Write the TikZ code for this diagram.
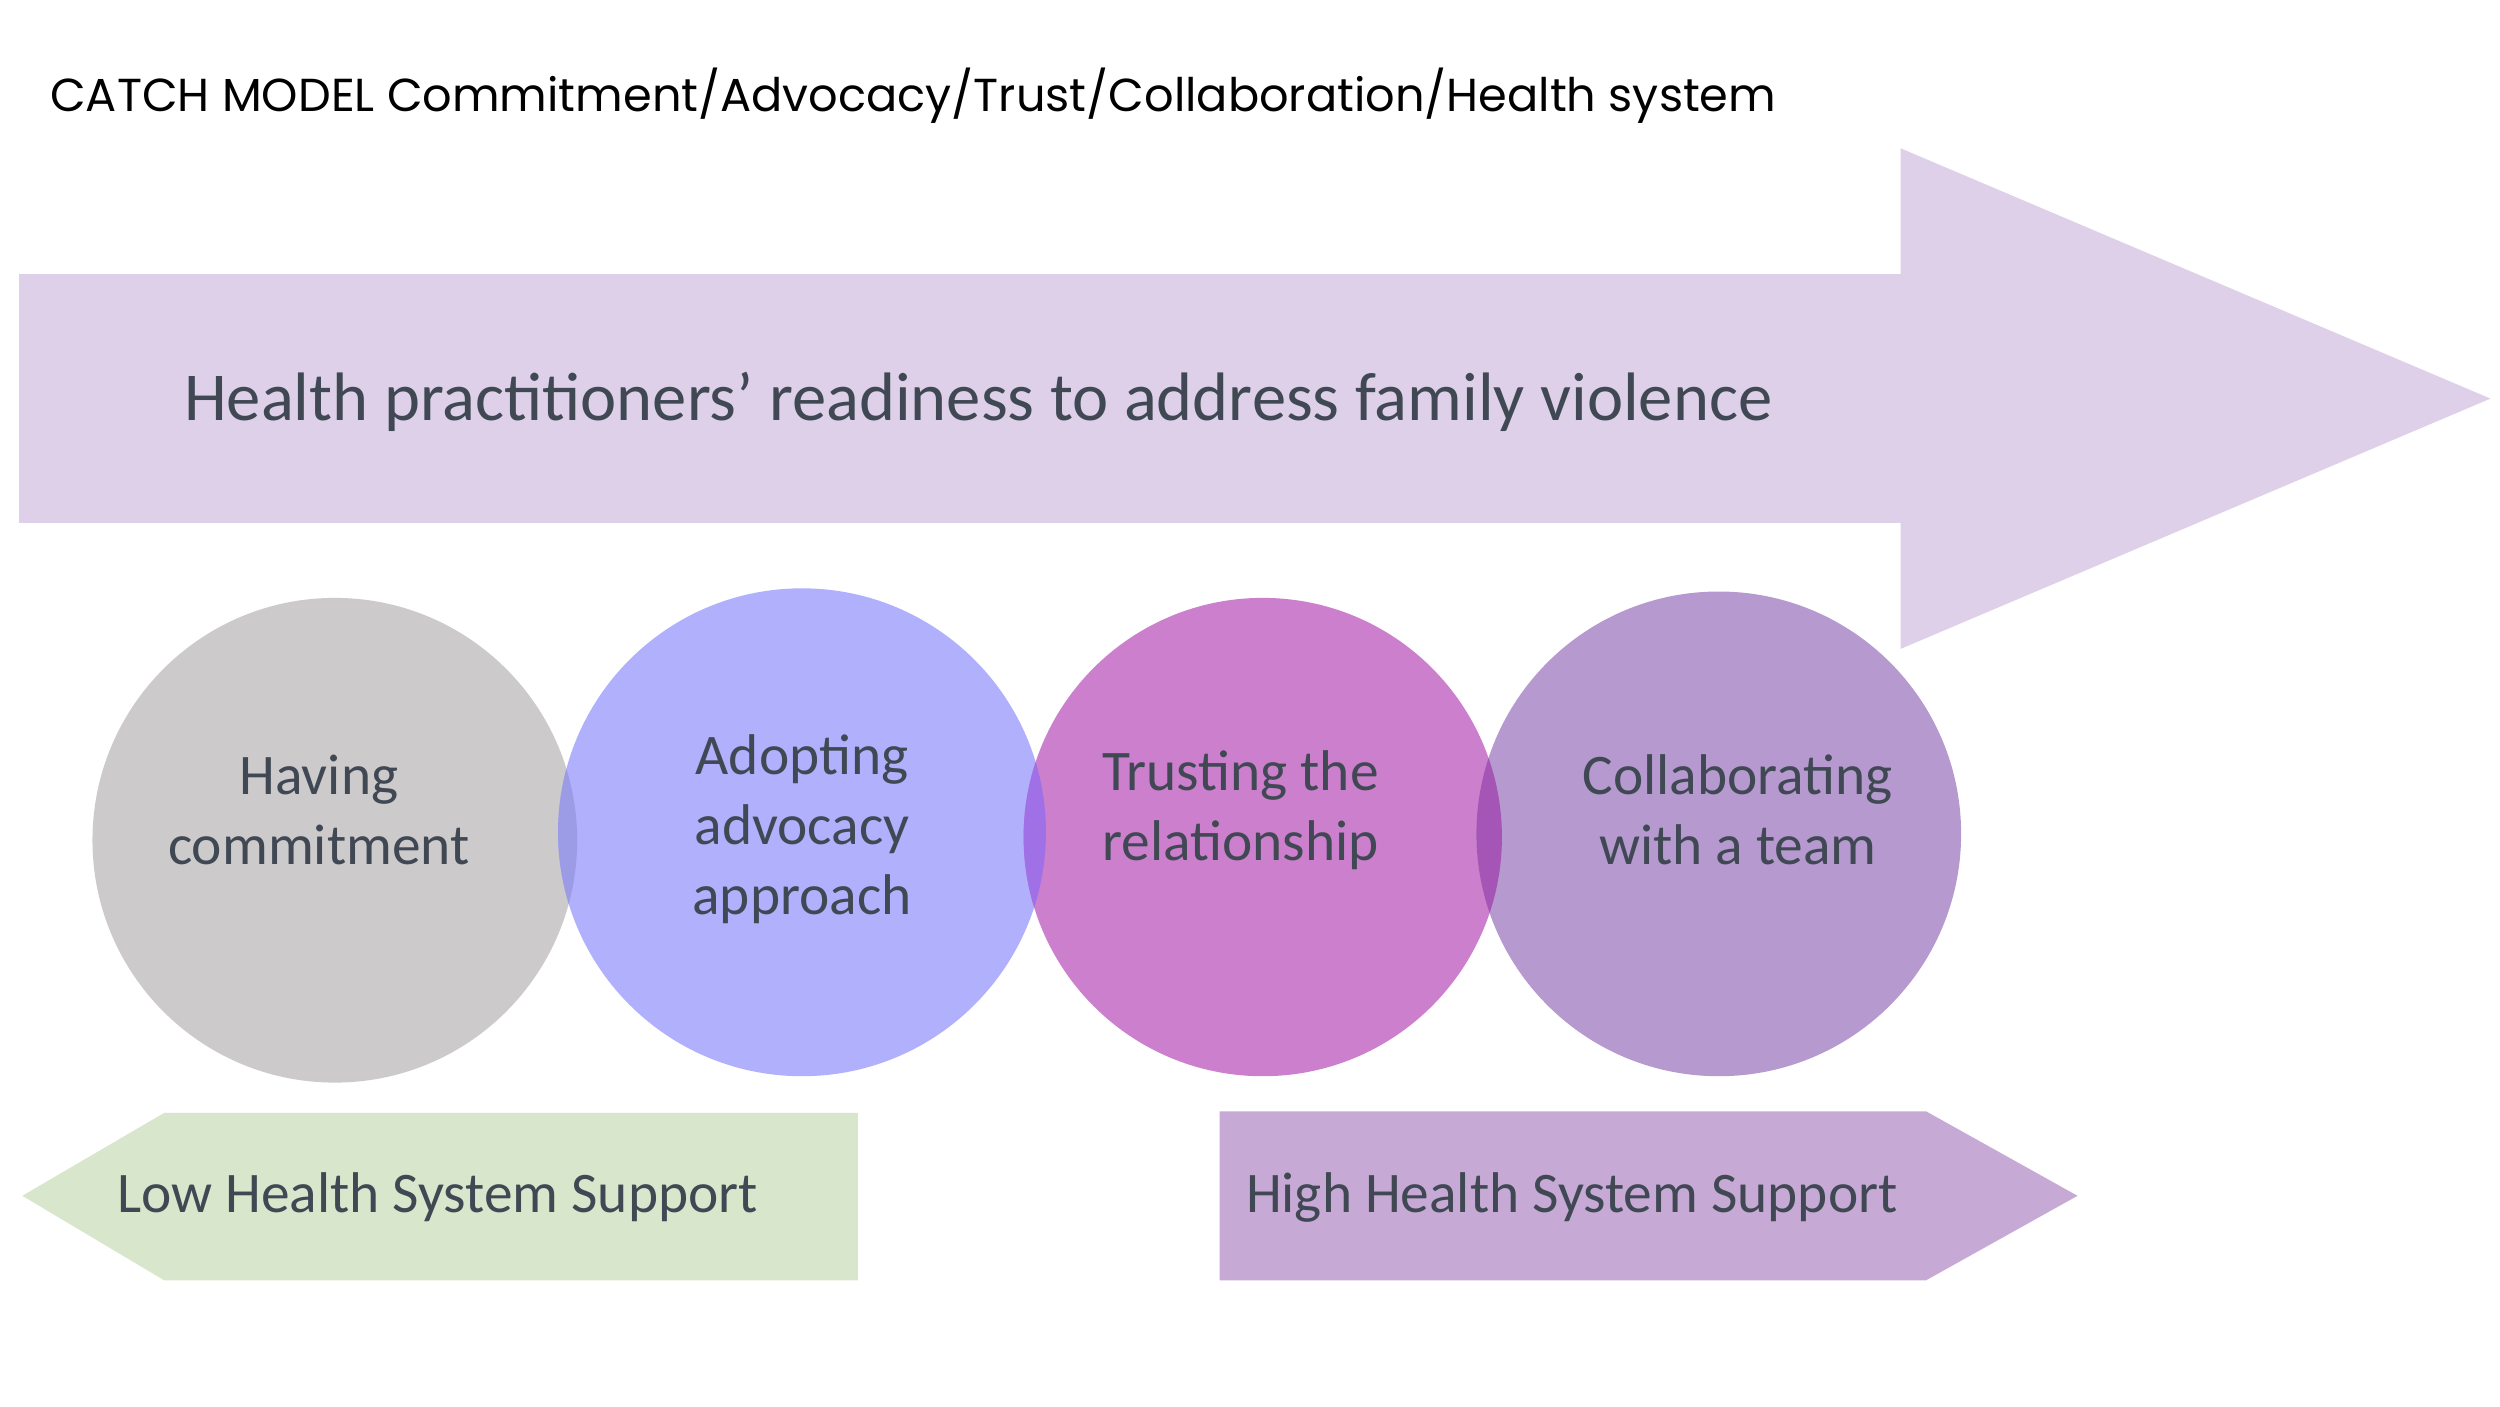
\documentclass[tikz,border=0pt]{standalone}
\usepackage{fontspec}
\setmainfont{Carlito}
\newfontfamily\titlefont{Poppins}
\definecolor{bigarrow}{HTML}{DDD0E8}
\definecolor{txt}{HTML}{404854}
\definecolor{cgray}{HTML}{CDCACB}
\definecolor{cblue}{HTML}{B0B0FC}
\definecolor{cmag}{HTML}{CC7FCC}
\definecolor{cpur}{HTML}{B599CF}
\definecolor{ogb}{HTML}{9C9CE6}
\definecolor{obm}{HTML}{A070E6}
\definecolor{omp}{HTML}{A455B5}
\definecolor{lowc}{HTML}{D8E6CC}
\definecolor{highc}{HTML}{C7A9D6}
\begin{document}
\begin{tikzpicture}[x=1pt,y=-1pt,
  lbl/.style={text=txt,font=\fontsize{36}{44}\selectfont,align=center},
  circ/.style={circle,minimum size=304pt,inner sep=0pt}]
\useasboundingbox (0,0) rectangle (1568,882);
\fill[white] (0,0) rectangle (1568,882);
\node[anchor=west,font=\titlefont\fontsize{29}{34}\selectfont,text=black] (title) at (28,60) {CATCH MODEL Commitment/Advocacy/Trust/Collaboration/Health system};
\fill[bigarrow] (12,172) -- (1192,172) -- (1192,93) -- (1562,250) -- (1192,407) -- (1192,328) -- (12,328) -- cycle;
\node[anchor=west,text=txt,font=\fontsize{43}{50}\selectfont] (head) at (112,252) {Health practitioners’ readiness to address family violence};
% circles
\fill[cgray] (210,527) circle[radius=152];
\fill[cblue] (503,522) circle[radius=153];
\fill[cmag] (792,525) circle[radius=150];
\fill[cpur] (1078,523) circle[radius=152];
\begin{scope}\clip (210,527) circle[radius=152]; \fill[ogb] (503,522) circle[radius=153];\end{scope}
\begin{scope}\clip (503,522) circle[radius=153]; \fill[obm] (792,525) circle[radius=150];\end{scope}
\begin{scope}\clip (792,525) circle[radius=150]; \fill[omp] (1078,523) circle[radius=152];\end{scope}
\node[lbl] (c1) at (200,508) {Having\\commitment};
\node[lbl] (c2) at (503,520) {Adopting\\advocacy\\approach};
\node[lbl] (c3) at (778,508) {Trusting the\\relationship};
\node[lbl] (c4) at (1090,508) {Collaborating\\with a team};
% bottom arrows
\fill[lowc] (14,750) -- (103,698) -- (538,698) -- (538,803) -- (103,803) -- cycle;
\fill[highc] (765,697) -- (1208,697) -- (1303,750) -- (1208,803) -- (765,803) -- cycle;
\node[anchor=west,text=txt,font=\fontsize{36}{44}\selectfont] (low) at (70,751) {Low Health System Support};
\node[anchor=west,text=txt,font=\fontsize{36}{44}\selectfont] (high) at (778,751) {High Health System Support};
\end{tikzpicture}
\end{document}
